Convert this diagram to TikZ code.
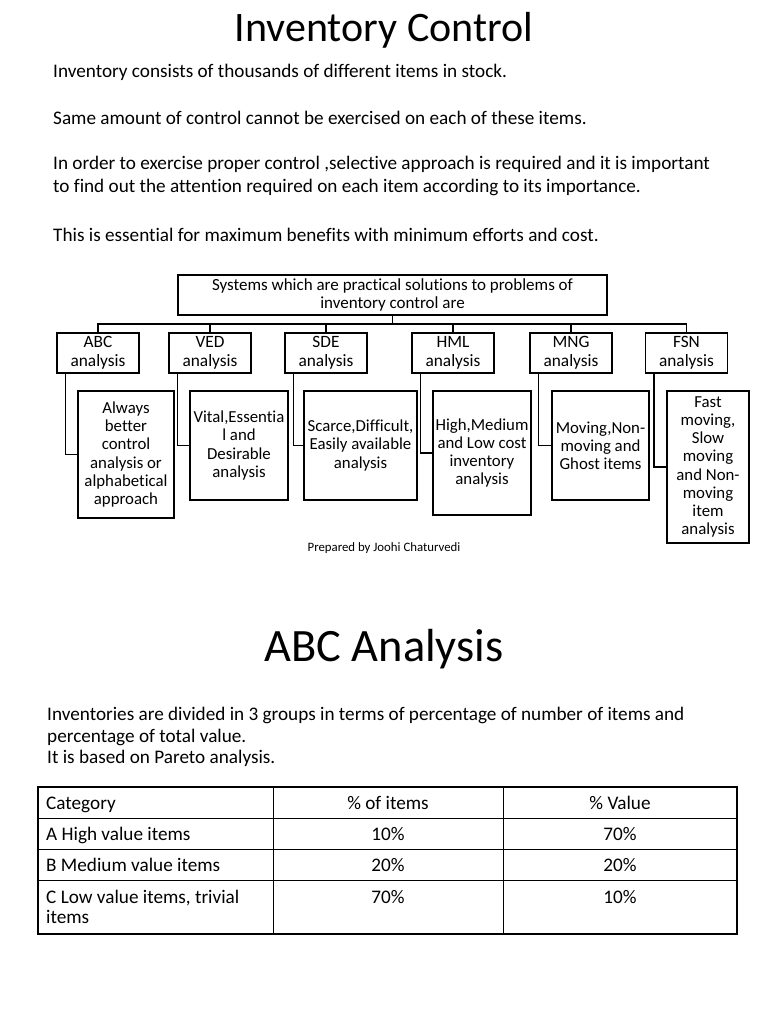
\documentclass[tikz,border=0pt]{standalone}
\usepackage{fontspec}
\setmainfont{Carlito}[Ligatures=CommonOff]
\usetikzlibrary{positioning}

\begin{document}
\begin{tikzpicture}[x=1pt, y=-1pt,
	every node/.style={inner sep=0pt},
	bodytext/.style={anchor=base west, font=\fontsize{19.2}{23}\selectfont},
	labelbox/.style={rectangle, draw, line width=1.2pt, minimum width=82pt, minimum height=40pt, align=center, font=\fontsize{17.3}{18.5}\selectfont},
	descbox/.style={rectangle, draw, line width=1.8pt, align=center, font=\fontsize{16.8}{18.2}\selectfont},
	cell/.style={font=\fontsize{19.2}{20.5}\selectfont}]
	\useasboundingbox (0,0) rectangle (768,1024);

	% first slide
	\node[anchor=base, font=\fontsize{42}{46}\selectfont] (title) at (384,42) {Inventory Control};
	\node[bodytext] (introa) at (53,78) {Inventory consists of thousands of different items in stock.};
	\node[bodytext] (introb) at (53,125) {Same amount of control cannot be exercised on each of these items.};
	\node[bodytext] (introc) at (53,170) {In order to exercise proper control ,selective approach is required and it is important};
	\node[bodytext] (introd) at (53,193) {to find out the attention required on each item according to its importance.};
	\node[bodytext] (introe) at (53,241) {This is essential for maximum benefits with minimum efforts and cost.};

	\node[rectangle, draw, line width=1.2pt, minimum width=429pt, minimum height=40pt, align=center, font=\fontsize{17}{18}\selectfont] (systems) at (392.5,295) {Systems which are practical solutions to problems of\\inventory control are};

	\node[labelbox] (abc) at (98,353) {ABC\\analysis};
	\node[labelbox] (ved) at (210,353) {VED\\analysis};
	\node[labelbox] (sde) at (326,353) {SDE\\analysis};
	\node[labelbox] (hml) at (453,353) {HML\\analysis};
	\node[labelbox] (mng) at (571,353) {MNG\\analysis};
	\node[labelbox] (fsn) at (686.5,353) {FSN\\analysis};

	\node[descbox, minimum width=96pt, minimum height=127pt] (abcdesc) at (126,454.5) {Always\\better\\control\\analysis or\\alphabetical\\approach};
	\node[descbox, minimum width=98pt, minimum height=109pt] (veddesc) at (239,445.5) {Vital,Essentia\\l and\\Desirable\\analysis};
	\node[descbox, minimum width=113pt, minimum height=109pt] (sdedesc) at (360.5,445.5) {Scarce,Difficult,\\Easily available\\analysis};
	\node[descbox, minimum width=98pt, minimum height=124pt] (hmldesc) at (482,453) {High,Medium\\and Low cost\\inventory\\analysis};
	\node[descbox, minimum width=97pt, minimum height=109pt] (mngdesc) at (600.5,445.5) {Moving,Non-\\moving and\\Ghost items};
	\node[descbox, minimum width=82pt, minimum height=152pt] (fsndesc) at (708,467) {Fast\\moving,\\Slow\\moving\\and Non-\\moving\\item\\analysis};

	% tree lines
	\coordinate (bar) at (0,324);
	\draw[line width=1.2pt] (systems.south) -- (systems.south |- bar);
	\draw[line width=1.2pt] (abc.north) -- (abc.north |- bar) -- (fsn.north |- bar) -- (fsn.north);
	\foreach \n in {ved,sde,hml,mng}
		\draw[line width=1.2pt] (\n.north) -- (\n.north |- bar);
	\foreach \n in {abc,ved,sde,hml,mng,fsn}
		\draw[line width=1.2pt] ([xshift=9pt]\n.south west) |- (\n desc.west);

	\node[font=\fontsize{12.8}{14}\selectfont] (prepared) at (384,548) {Prepared by Joohi Chaturvedi};

	% second slide
	\node[anchor=base, font=\fontsize{46.4}{50}\selectfont] (abctitle) at (384,661) {ABC Analysis};
	\node[bodytext] (abca) at (47,720) {Inventories are divided in 3 groups in terms of percentage of number of items and};
	\node[bodytext] (abcb) at (47,742) {percentage of total value.};
	\node[bodytext] (abcc) at (47,763) {It is based on Pareto analysis.};

	% table
	\draw[line width=1.2pt] (38,787) rectangle (737,934);
	\foreach \y in {818,849,880}
		\draw[line width=0.8pt] (38,\y) -- (737,\y);
	\foreach \x in {273,503}
		\draw[line width=0.8pt] (\x,787) -- (\x,934);

	\node[cell, anchor=base west] (cat) at (46,809) {Category};
	\node[cell, anchor=base] (items) at (388,809) {\% of items};
	\node[cell, anchor=base] (value) at (620,809) {\% Value};
	\node[cell, anchor=base west] (rowa) at (46,840) {A High value items};
	\node[cell, anchor=base] (rowaitems) at (388,840) {10\%};
	\node[cell, anchor=base] (rowavalue) at (620,840) {70\%};
	\node[cell, anchor=base west] (rowb) at (46,871) {B Medium value items};
	\node[cell, anchor=base] (rowbitems) at (388,871) {20\%};
	\node[cell, anchor=base] (rowbvalue) at (620,871) {20\%};
	\node[cell, anchor=base west] (rowc) at (46,903) {C Low value items, trivial};
	\node[cell, anchor=base west] (rowcb) at (46,923.5) {items};
	\node[cell, anchor=base] (rowcitems) at (388,903) {70\%};
	\node[cell, anchor=base] (rowcvalue) at (620,903) {10\%};
\end{tikzpicture}
\end{document}
